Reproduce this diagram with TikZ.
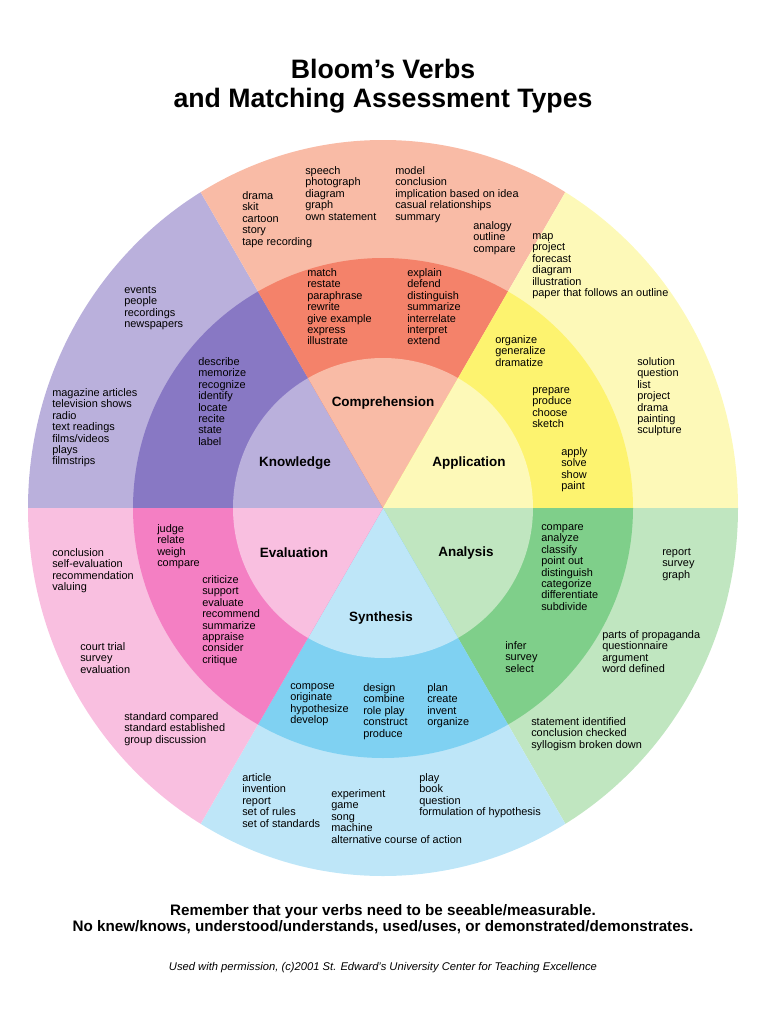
\documentclass[tikz,border=0pt]{standalone}
\usepackage{fontspec}
\setmainfont{Liberation Sans}
\begin{document}
\begin{tikzpicture}[x=0.75pt,y=-0.75pt,
  txt/.style={anchor=north west,inner sep=0pt,align=left,font=\fontsize{8.2}{8.6}\selectfont},
  lab/.style={inner sep=0pt,font=\fontsize{10.1}{11}\selectfont\bfseries}]
\useasboundingbox (0,0) rectangle (768,1024);
\definecolor{kO}{HTML}{BAB0DC}\definecolor{kM}{HTML}{8878C4}
\definecolor{cO}{HTML}{F9BBA6}\definecolor{cM}{HTML}{F4826A}
\definecolor{aO}{HTML}{FDF9B8}\definecolor{aM}{HTML}{FDF36F}
\definecolor{nO}{HTML}{C0E6C0}\definecolor{nM}{HTML}{7FCF8A}
\definecolor{sO}{HTML}{BEE6F8}\definecolor{sM}{HTML}{7FD1F2}
\definecolor{eO}{HTML}{F9BFE0}\definecolor{eM}{HTML}{F47FC3}
\coordinate (c) at (383,508);
\begin{scope}
\clip (c) ellipse[x radius=355,y radius=368];
\foreach \a/\co in {120/kO,60/cO,0/aO,-60/nO,-120/sO,-180/eO}{
  \pgfmathsetmacro\b{\a+60}
  \fill[\co] (c) -- ++(-\a:420) arc[start angle=-\a,end angle=-\b,radius=420] -- cycle;
}
\end{scope}
\foreach \a/\co/\cm in {120/kO/kM,60/cO/cM,0/aO/aM,-60/nO/nM,-120/sO/sM,-180/eO/eM}{
  \pgfmathsetmacro\b{\a+60}
  \fill[\cm] (c) -- ++(-\a:250) arc[start angle=-\a,end angle=-\b,radius=250] -- cycle;
  \fill[\co] (c) -- ++(-\a:150) arc[start angle=-\a,end angle=-\b,radius=150] -- cycle;
}
\node[font=\fontsize{20}{22}\selectfont\bfseries,align=center] (title) at (383,86) {Bloom’s Verbs\\and Matching Assessment Types};
\node[txt] (c1) at (242,191) {drama\\skit\\cartoon\\story\\tape recording};
\node[txt] (c2) at (305,166) {speech\\photograph\\diagram\\graph\\own statement};
\node[txt] (c3) at (395,166) {model\\conclusion\\implication based on idea\\casual relationships\\summary};
\node[txt] (c4) at (473,221) {analogy\\outline\\compare};
\node[txt] (c5) at (307,268) {match\\restate\\paraphrase\\rewrite\\give example\\express\\illustrate};
\node[txt] (c6) at (407,268) {explain\\defend\\distinguish\\summarize\\interrelate\\interpret\\extend};
\node[txt] (a1) at (532,233) {map\\project\\forecast\\diagram\\illustration\\paper that follows an outline};
\node[txt] (a2) at (637,357) {solution\\question\\list\\project\\drama\\painting\\sculpture};
\node[txt] (a3) at (495,335) {organize\\generalize\\dramatize};
\node[txt] (a4) at (532,387) {prepare\\produce\\choose\\sketch};
\node[txt] (a5) at (561,447) {apply\\solve\\show\\paint};
\node[txt] (k1) at (124,286) {events\\people\\recordings\\newspapers};
\node[txt] (k2) at (52,388) {magazine articles\\television shows\\radio\\text readings\\films/videos\\plays\\filmstrips};
\node[txt] (k3) at (198,357) {describe\\memorize\\recognize\\identify\\locate\\recite\\state\\label};
\node[txt] (e1) at (52,548) {conclusion\\self-evaluation\\recommendation\\valuing};
\node[txt] (e2) at (80,642) {court trial\\survey\\evaluation};
\node[txt] (e3) at (124,712) {standard compared\\standard established\\group discussion};
\node[txt] (e4) at (157,524) {judge\\relate\\weigh\\compare};
\node[txt] (e5) at (202,575) {criticize\\support\\evaluate\\recommend\\summarize\\appraise\\consider\\critique};
\node[txt] (n1) at (541,524) {compare\\analyze\\classify\\point out\\distinguish\\categorize\\differentiate\\subdivide};
\node[txt] (n2) at (505,641) {infer\\survey\\select};
\node[txt] (n3) at (662,548) {report\\survey\\graph};
\node[txt] (n4) at (602,630) {parts of propaganda\\questionnaire\\argument\\word defined};
\node[txt] (n5) at (531,717) {statement identified\\conclusion checked\\syllogism broken down};
\node[txt] (s1) at (290,683) {compose\\originate\\hypothesize\\develop};
\node[txt] (s2) at (363,683) {design\\combine\\role play\\construct\\produce};
\node[txt] (s3) at (427,683) {plan\\create\\invent\\organize};
\node[txt] (s4) at (242,773) {article\\invention\\report\\set of rules\\set of standards};
\node[txt] (s5) at (331,789) {experiment\\game\\song\\machine\\alternative course of action};
\node[txt] (s6) at (419,773) {play\\book\\question\\formulation of hypothesis};
\node[lab] (L1) at (383,403) {Comprehension};
\node[lab] (L2) at (295,463) {Knowledge};
\node[lab] (L3) at (469,463) {Application};
\node[lab] (L4) at (294,553) {Evaluation};
\node[lab] (L5) at (466,553) {Analysis};
\node[lab] (L6) at (381,618) {Synthesis};
\node[font=\fontsize{11.4}{12.2}\selectfont\bfseries,align=center] (rem) at (383,919) {Remember that your verbs need to be seeable/measurable.\\No knew/knows, understood/understands, used/uses, or demonstrated/demonstrates.};
\node[font=\fontsize{8.4}{9}\selectfont\itshape] (foot) at (383,968) {Used with permission, (c)2001 St. Edward’s University Center for Teaching Excellence};
\end{tikzpicture}
\end{document}
